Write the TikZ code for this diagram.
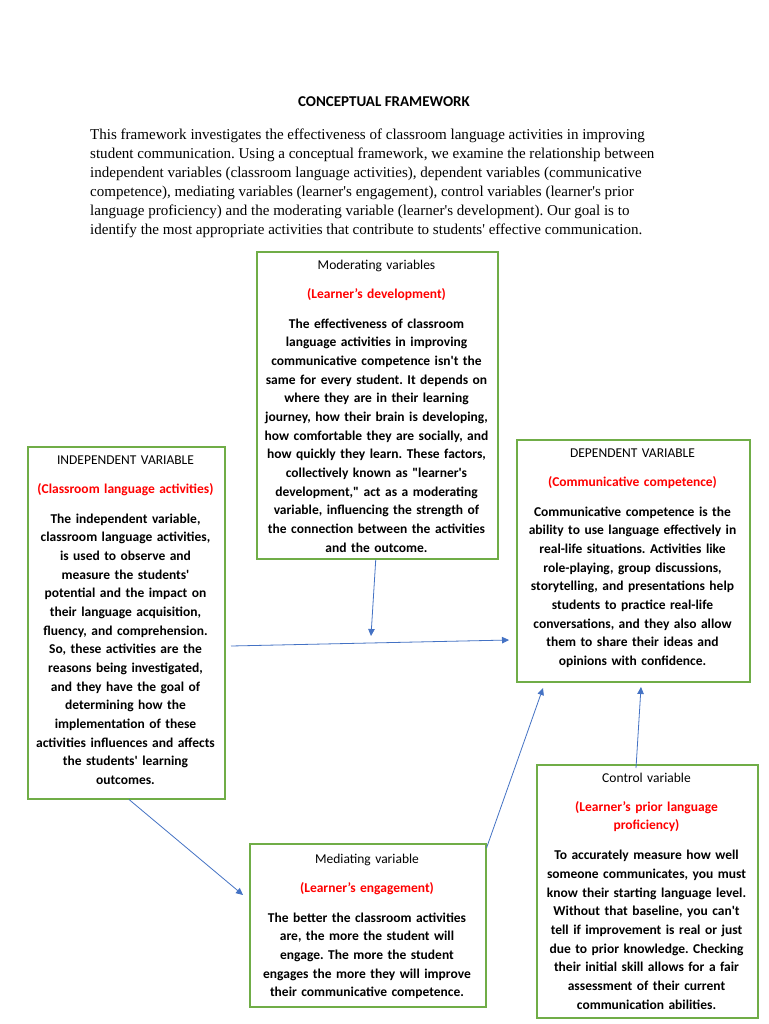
\documentclass[tikz,border=0pt]{standalone}
\usepackage{fontspec}
\setmainfont{Liberation Serif}
\newfontfamily\carl{Carlito}
\usetikzlibrary{arrows.meta}
\definecolor{boxgreen}{HTML}{70AD47}
\definecolor{arrblue}{HTML}{4472C4}
\definecolor{redtxt}{HTML}{FF0000}
\newcommand\sq{\textquotesingle}
\frenchspacing
\begin{document}
\begin{tikzpicture}[x=1pt,y=-1pt,
  varbox/.style={draw=boxgreen, line width=1.5pt, anchor=north west, inner sep=0pt},
  boxtext/.style={anchor=north, align=center, inner sep=0pt, text width=#1,
    font=\carl\bfseries\fontsize{13.5}{18.67}\selectfont},
  arr/.style={draw=arrblue, line width=0.8pt, -{Triangle[length=7pt,width=6.5pt]}}]
\useasboundingbox[fill=white] (0,0) rectangle (768,1024);

% title and intro
\node[anchor=base, inner sep=0pt, font=\carl\bfseries\fontsize{15}{18}\selectfont] (title) at (384,107) {CONCEPTUAL FRAMEWORK};
\node[anchor=north west, align=left, inner sep=0pt, font=\fontsize{15.05}{19}\selectfont] (intro) at (90,128)
{\rule{0pt}{11pt}This framework investigates the effectiveness of classroom language activities in improving\\
student communication. Using a conceptual framework, we examine the relationship between\\
independent variables (classroom language activities), dependent variables (communicative\\
competence), mediating variables (learner\sq s engagement), control variables (learner\sq s prior\\
language proficiency) and the moderating variable (learner\sq s development). Our goal is to\\
identify the most appropriate activities that contribute to students\sq\ effective communication.};

% boxes
\node[varbox, minimum width=241pt, minimum height=307pt] (mod) at (256,251) {};
\node[varbox, minimum width=197pt, minimum height=352pt] (ind) at (27,446) {};
\node[varbox, minimum width=233pt, minimum height=242pt] (dep) at (516,439) {};
\node[varbox, minimum width=236pt, minimum height=163pt] (med) at (249,843) {};
\node[varbox, minimum width=221pt, minimum height=253pt] (ctl) at (536,764) {};

% box texts
\node[boxtext=260pt] (modt) at (376.5,259) {{\mdseries\rule{0pt}{10pt}Moderating variables}\\[10.3pt]
{\color{redtxt}(Learner’s development)}\\[11.3pt]
The effectiveness of classroom\\
language activities in improving\\
communicative competence isn\sq t the\\
same for every student. It depends on\\
where they are in their learning\\
journey, how their brain is developing,\\
how comfortable they are socially, and\\
how quickly they learn. These factors,\\
collectively known as "learner\sq s\\
development," act as a moderating\\
variable, influencing the strength of\\
the connection between the activities\\
and the outcome.};

\node[boxtext=220pt] (indt) at (125.5,454) {{\mdseries\rule{0pt}{10pt}INDEPENDENT VARIABLE}\\[10.3pt]
{\color{redtxt}(Classroom language activities)}\\[11.3pt]
The independent variable,\\
classroom language activities,\\
is used to observe and\\
measure the students\sq\\
potential and the impact on\\
their language acquisition,\\
fluency, and comprehension.\\
So, these activities are the\\
reasons being investigated,\\
and they have the goal of\\
determining how the\\
implementation of these\\
activities influences and affects\\
the students\sq\ learning\\
outcomes.};

\node[boxtext=250pt] (dept) at (632.5,447) {{\mdseries\rule{0pt}{10pt}DEPENDENT VARIABLE}\\[10.3pt]
{\color{redtxt}(Communicative competence)}\\[11.3pt]
Communicative competence is the\\
ability to use language effectively in\\
real-life situations. Activities like\\
role-playing, group discussions,\\
storytelling, and presentations help\\
students to practice real-life\\
conversations, and they also allow\\
them to share their ideas and\\
opinions with confidence.};

\node[boxtext=250pt] (medt) at (367,853) {{\mdseries\rule{0pt}{10pt}Mediating variable}\\[10.3pt]
{\color{redtxt}(Learner’s engagement)}\\[11.3pt]
The better the classroom activities\\
are, the more the student will\\
engage. The more the student\\
engages the more they will improve\\
their communicative competence.};

\node[boxtext=240pt] (ctlt) at (646.5,772) {{\mdseries\rule{0pt}{10pt}Control variable}\\[10.3pt]
{\color{redtxt}(Learner’s prior language\\ proficiency)}\\[11.3pt]
To accurately measure how well\\
someone communicates, you must\\
know their starting language level.\\
Without that baseline, you can\sq t\\
tell if improvement is real or just\\
due to prior knowledge. Checking\\
their initial skill allows for a fair\\
assessment of their current\\
communication abilities.};

% connector free ends
\coordinate (modend) at (371,636);
\coordinate (hstart) at (231,646);
\coordinate (hend) at (509,640);
\coordinate (indend) at (243,895);
\coordinate (medend) at (543,688);
\coordinate (ctlend) at (641,687);

\draw[arr] ([xshift=-1.5pt]mod.south) -- (modend);
\draw[arr] (hstart) -- (hend);
\draw[arr] ([xshift=102pt]ind.south west) -- (indend);
\draw[arr] ([yshift=-5pt]med.north east) -- (medend);
\draw[arr] ([xshift=100pt,yshift=-4pt]ctl.north west) -- (ctlend);
\end{tikzpicture}
\end{document}
